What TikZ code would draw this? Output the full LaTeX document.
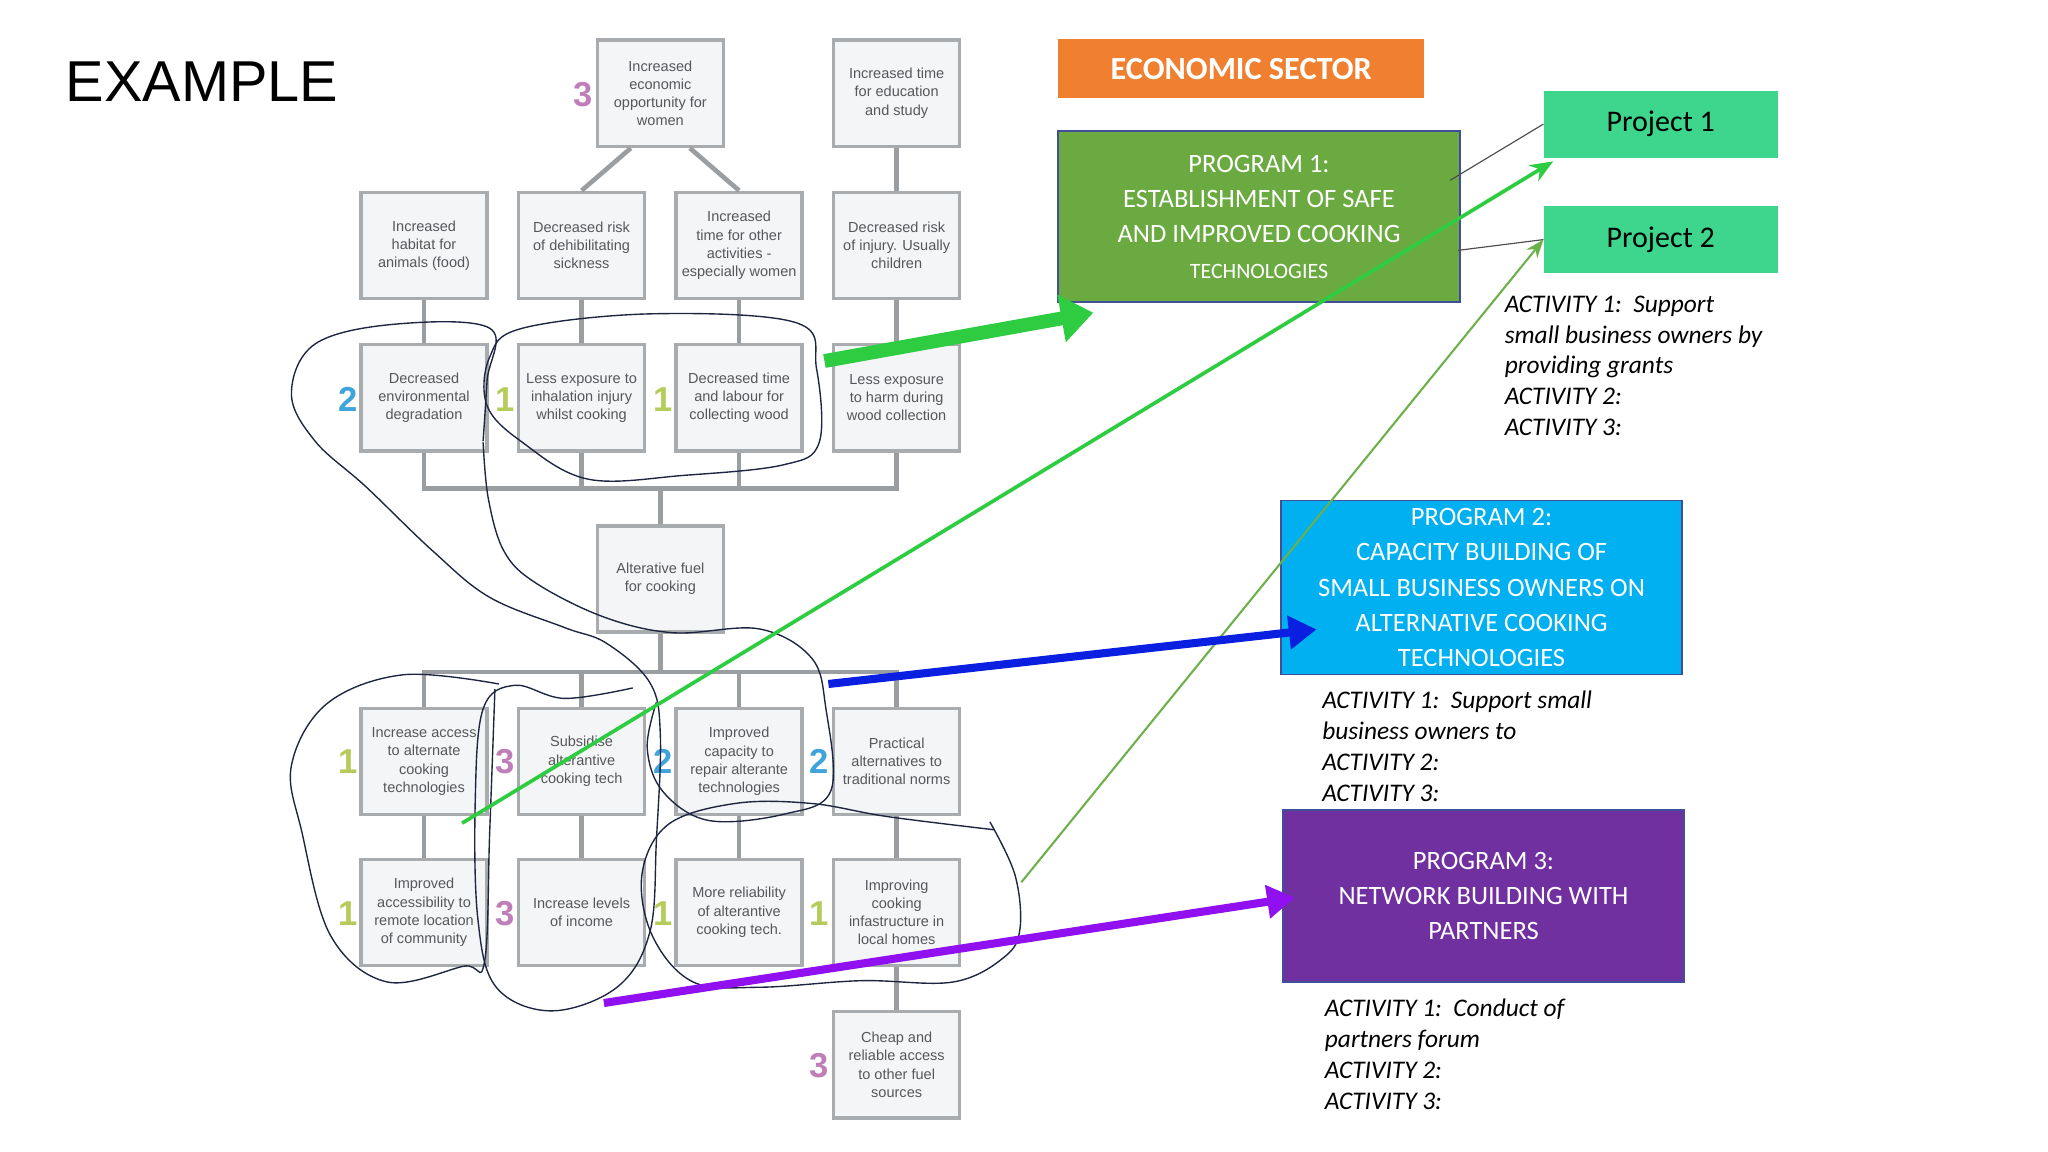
\documentclass[tikz,border=0pt]{standalone}
\usepackage{fontspec}
\setmainfont{Carlito}
\newfontfamily\arialf{Liberation Sans}
\usetikzlibrary{arrows.meta}
\definecolor{boxfill}{HTML}{F3F5F7}
\definecolor{boxline}{HTML}{A9ACAE}
\definecolor{treeline}{HTML}{9B9EA0}
\definecolor{txtgray}{HTML}{55575A}
\definecolor{numpurple}{HTML}{C07EB8}
\definecolor{numblue}{HTML}{3FA3DC}
\definecolor{numgreen}{HTML}{B5CC5A}
\definecolor{orangesec}{HTML}{F0802F}
\definecolor{prgreen}{HTML}{6BAA41}
\definecolor{prframe}{HTML}{3F4F9A}
\definecolor{projgreen}{HTML}{3DD68C}
\definecolor{prcyan}{HTML}{00B0F0}
\definecolor{prpurple}{HTML}{7030A0}
\definecolor{arrgreen}{HTML}{2ECC40}
\definecolor{arrolive}{HTML}{6CB04A}
\definecolor{arrblue}{HTML}{0A1FE0}
\definecolor{arrpurple}{HTML}{9010F0}
\definecolor{loopink}{HTML}{1E2540}
\begin{document}
\begin{tikzpicture}[x=0.02cm,y=-0.02cm,
  cbox/.style={draw=boxline,line width=1.5pt,fill=boxfill,minimum width=1.92cm,minimum height=1.62cm,
    inner sep=1pt,align=center,text=txtgray,font=\arialf\fontsize{6.3}{7.9}\selectfont},
  tree/.style={draw=treeline,line width=2pt},
  num/.style={font=\arialf\bfseries\fontsize{15}{15}\selectfont},
  prog/.style={draw=prframe,line width=0.8pt,text=white,align=center,font=\fontsize{11.5}{15.3}\selectfont},
  proj/.style={fill=projgreen,minimum width=3.56cm,minimum height=1.02cm,font=\fontsize{13}{13}\selectfont},
  act/.style={anchor=north west,align=left,font=\itshape\fontsize{11}{13.4}\selectfont},
  loop/.style={draw=loopink,line width=0.6pt}]
\useasboundingbox (0,0) rectangle (1560,877.5);
\node[anchor=west,font=\arialf\fontsize{25}{25}\selectfont] (title) at (44,62) {EXAMPLE};
% tree boxes
\node[cbox] (t1) at (503,71) {Increased\\economic\\opportunity for\\women};
\node[cbox] (t2) at (683,71) {Increased time\\for education\\and study};
\node[cbox] (a1) at (323,187) {Increased\\habitat for\\animals (food)};
\node[cbox] (a2) at (443,187) {Decreased risk\\of dehibilitating\\sickness};
\node[cbox] (a3) at (563,187) {Increased\\time for other\\activities -\\especially women};
\node[cbox] (a4) at (683,187) {Decreased risk\\of injury. Usually\\children};
\node[cbox] (b1) at (323,303) {Decreased\\environmental\\degradation};
\node[cbox] (b2) at (443,303) {Less exposure to\\inhalation injury\\whilst cooking};
\node[cbox] (b3) at (563,303) {Decreased time\\and labour for\\collecting wood};
\node[cbox] (b4) at (683,303) {Less exposure\\to harm during\\wood collection};
\node[cbox] (fuel) at (503,441) {Alterative fuel\\for cooking};
\node[cbox] (c1) at (323,580) {Increase access\\to alternate\\cooking\\technologies};
\node[cbox] (c2) at (443,580) {Subsidise\\alterantive\\cooking tech};
\node[cbox] (c3) at (563,580) {Improved\\capacity to\\repair alterante\\technologies};
\node[cbox] (c4) at (683,580) {Practical\\alternatives to\\traditional norms};
\node[cbox] (d1) at (323,695) {Improved\\accessibility to\\remote location\\of community};
\node[cbox] (d2) at (443,695) {Increase levels\\of income};
\node[cbox] (d3) at (563,695) {More reliability\\of alterantive\\cooking tech.};
\node[cbox] (d4) at (683,695) {Improving\\cooking\\infastructure in\\local homes};
\node[cbox] (e4) at (683,811) {Cheap and\\reliable access\\to other fuel\\sources};
% bars and tree lines
\coordinate (barA) at (503,372);
\coordinate (barB) at (503,512);
\draw[tree] ([xshift=-0.45cm]t1.south) -- (a2.north);
\draw[tree] ([xshift=0.45cm]t1.south) -- (a3.north);
\draw[tree] (t2) -- (a4);
\draw[tree] (a1) -- (b1); \draw[tree] (a2) -- (b2); \draw[tree] (a3) -- (b3); \draw[tree] (a4) -- (b4);
\draw[tree] (b1.south) |- (barA) -| (b4.south);
\draw[tree] (b2.south) -- (b2.south |- barA); \draw[tree] (b3.south) -- (b3.south |- barA);
\draw[tree] (barA) -- (fuel.north);
\draw[tree] (fuel.south) -- (barB);
\draw[tree] (c1.north) |- (barB) -| (c4.north);
\draw[tree] (c2.north) -- (c2.north |- barB); \draw[tree] (c3.north) -- (c3.north |- barB);
\draw[tree] (c1) -- (d1); \draw[tree] (c2) -- (d2); \draw[tree] (c3) -- (d3); \draw[tree] (c4) -- (d4);
\draw[tree] (d4) -- (e4);
% priority numbers
\node[num,text=numpurple] (n1) at (444,72) {3};
\node[num,text=numblue] (n2) at (265,304) {2};
\node[num,text=numgreen] (n3) at (385,304) {1};
\node[num,text=numgreen] (n4) at (505,304) {1};
\node[num,text=numgreen] (n5) at (265,580) {1};
\node[num,text=numpurple] (n6) at (385,580) {3};
\node[num,text=numblue] (n7) at (505,580) {2};
\node[num,text=numblue] (n8) at (624,580) {2};
\node[num,text=numgreen] (n9) at (265,696) {1};
\node[num,text=numpurple] (n10) at (385,696) {3};
\node[num,text=numgreen] (n11) at (505,696) {1};
\node[num,text=numgreen] (n12) at (624,696) {1};
\node[num,text=numpurple] (n13) at (624,812) {3};
% right side
\node[fill=orangesec,text=white,minimum width=5.58cm,minimum height=0.9cm,font=\bfseries\fontsize{14}{14}\selectfont] (sec) at (945.5,52.5) {ECONOMIC SECTOR};
\node[prog,fill=prgreen,minimum width=6.12cm,minimum height=2.6cm] (p1) at (959,165)
  {PROGRAM 1:\\ESTABLISHMENT OF SAFE\\AND IMPROVED COOKING\\{\fontsize{9.5}{12}\selectfont TECHNOLOGIES}};
\node[proj] (pj1) at (1265,94.5) {Project 1};
\node[proj] (pj2) at (1265,182.5) {Project 2};
\node[act] (act1) at (1140,219) {ACTIVITY 1:\ \ Support\\small business owners by\\providing grants\\ACTIVITY 2:\\ACTIVITY 3:};
\node[prog,fill=prcyan,minimum width=6.1cm,minimum height=2.62cm] (p2) at (1128.5,447.5)
  {PROGRAM 2:\\CAPACITY BUILDING OF\\SMALL BUSINESS OWNERS ON\\ALTERNATIVE COOKING\\TECHNOLOGIES};
\node[act] (act2) at (1001,520) {ACTIVITY 1:\ \ Support small\\business owners to\\ACTIVITY 2:\\ACTIVITY 3:};
\node[prog,fill=prpurple,minimum width=6.12cm,minimum height=2.62cm] (p3) at (1130,682.5)
  {PROGRAM 3:\\NETWORK BUILDING WITH\\PARTNERS};
\node[act] (act3) at (1003,755) {ACTIVITY 1:\ \ Conduct of\\partners forum\\ACTIVITY 2:\\ACTIVITY 3:};
% hand-drawn loops
\draw[loop] plot[smooth,tension=0.6] coordinates {(368,336) (371,290) (373,250) (300,247) (240,262) (222,300) (240,336) (279,371) (330,420) (373,455) (430,478) (462,490) (495,520) (503,560) (500,640) (495,710) (470,752) (420,770) (378,752) (364,700) (362,610) (368,540) (392,522) (430,532) (482,524)};
\draw[loop] plot[smooth,tension=0.6] coordinates {(368,337) (372,380) (384,420) (408,444) (460,470) (513,482) (578,479) (618,501) (629,539) (633,602) (598,620) (540,625) (505,603) (493,570) (500,535)};
\draw[loop] plot[smooth cycle,tension=0.6] coordinates {(607,246) (498,239) (398,250) (373,272) (371,309) (398,337) (448,365) (522,362) (597,354) (624,337) (622,281)};
\draw[loop] plot[smooth,tension=0.6] coordinates {(380,521) (307,514) (249,536) (222,583) (230,634) (252,713) (295,748) (353,736) (369,733) (373,634) (377,525)};
\draw[loop] plot[smooth,tension=0.6] coordinates {(754,626) (773,666) (777,707) (765,729) (726,748) (656,747) (579,752) (528,748) (497,713) (489,666) (509,628) (560,612) (618,612) (676,622) (757,632)};
% connectors
\coordinate (s1) at (628,275);
\coordinate (s2) at (352,627);
\coordinate (s3) at (778,672);
\coordinate (s4) at (631,521);
\coordinate (s5) at (460,764);
\draw[arrgreen,line width=6pt,-{Triangle[length=14pt,width=20pt]}] (s1) -- ([xshift=0.55cm,yshift=-0.15cm]p1.south west);
\draw[arrgreen,line width=1.6pt,-{Stealth[length=10pt,width=8pt]}] (s2) -- ([xshift=0.15cm,yshift=-0.05cm]pj1.south west);
\draw[arrolive,line width=0.9pt,-{Stealth[length=8pt,width=6pt]}] (s3) -- (pj2.west);
\draw[black!70,line width=0.5pt] ([xshift=-0.16cm,yshift=-0.76cm]p1.north east) -- (pj1.west);
\draw[black!70,line width=0.5pt] ([xshift=-0.04cm,yshift=0.8cm]p1.south east) -- (pj2.west);
\draw[arrblue,line width=3.5pt,-{Triangle[length=12pt,width=14pt]}] (s4) -- ([xshift=0.55cm,yshift=0.7cm]p2.south west);
\draw[arrpurple,line width=3.5pt,-{Triangle[length=12pt,width=14pt]}] (s5) -- ([xshift=0.2cm,yshift=1.3cm]p3.south west);
\end{tikzpicture}
\end{document}
